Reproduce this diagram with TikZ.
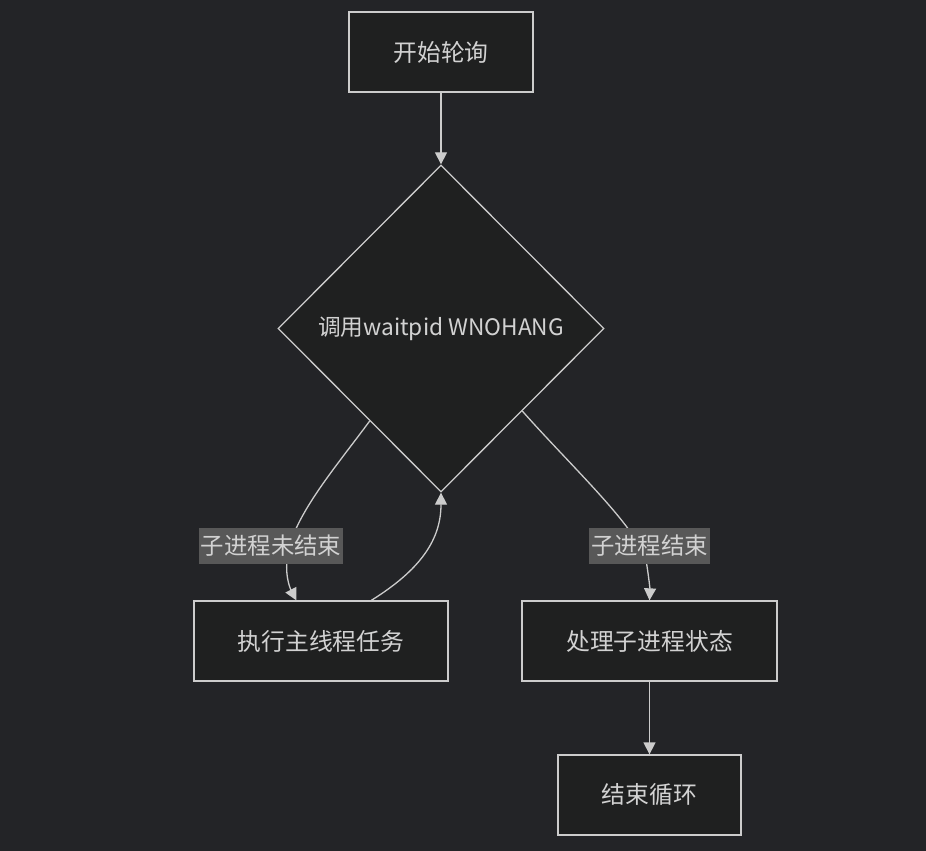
\documentclass[tikz,border=0pt]{standalone}
\usepackage{fontspec}
\setmainfont{Noto Sans CJK SC}
\usetikzlibrary{shapes.geometric,arrows.meta,calc}
\definecolor{bgc}{HTML}{232427}
\definecolor{nodefill}{HTML}{1F2020}
\definecolor{strokec}{HTML}{CCCCCC}
\definecolor{txt}{HTML}{D2D2D2}
\definecolor{lblbg}{HTML}{585858}
\begin{document}
\begin{tikzpicture}[x=1pt,y=-1pt,
  box/.style={draw=strokec, fill=nodefill, line width=1.3pt, minimum height=80pt, inner sep=0pt, text=txt, font=\fontsize{23.8}{28}\selectfont},
  dec/.style={shape=diamond, draw=strokec, fill=nodefill, line width=1.3pt, minimum width=326pt, minimum height=327pt, inner sep=0pt, text=txt, font=\fontsize{22.7}{26}\selectfont},
  lbl/.style={fill=lblbg, text=txt, inner xsep=2pt, inner ysep=0pt, minimum height=36pt, font=\fontsize{23.4}{27}\selectfont},
  edge/.style={draw=strokec, line width=1.3pt, -{Triangle[length=12pt,width=12pt]}}]
\fill[bgc] (0,0) rectangle (926,851);
\useasboundingbox (0,0) rectangle (926,851);
\node[box, minimum width=184pt] (start) at (441,52) {开始轮询};
\node[dec] (dia) at (441,328.5) {调用waitpid WNOHANG};
\node[box, minimum width=254pt] (task) at (321,641) {执行主线程任务};
\node[box, minimum width=255pt] (proc) at (649.5,641) {处理子进程状态};
\node[box, minimum width=183pt] (end) at (649.5,795) {结束循环};
\coordinate (dl) at ($(dia.west)!0.564!(dia.south)$);
\coordinate (dr) at ($(dia.east)!0.503!(dia.south)$);
\coordinate (tin) at ($(task.north west)+(103,0)$);
\coordinate (tout) at ($(task.north west)+(178,0)$);
\draw[edge] (start) -- (dia);
\draw[edge] (dl) .. controls (335,468) and (290,520) .. (287,560) .. controls (285,580) and (292,592) .. (tin);
\draw[edge] (tout) .. controls (420,570) and (441,540) .. (dia.south);
\draw[edge] (dr) .. controls (570,465) and (635,525) .. (646,560) .. controls (649,578) and (650,590) .. (proc.north);
\draw[edge] (proc) -- (end);
\node[lbl] (l1) at (271,546) {子进程未结束};
\node[lbl] (l2) at (649.5,546) {子进程结束};
\end{tikzpicture}
\end{document}
